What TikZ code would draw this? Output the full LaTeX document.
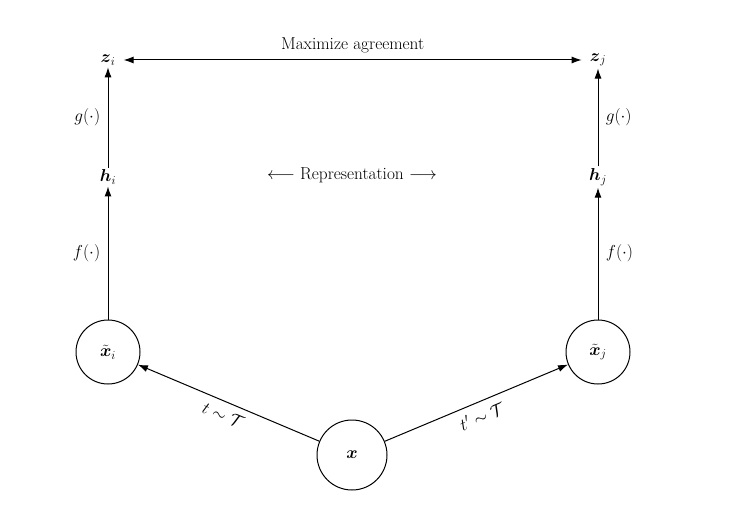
\documentclass[tikz,border=0pt]{standalone}
\usepackage{amsmath,amssymb}
\usetikzlibrary{arrows.meta}
\begin{document}
\begin{tikzpicture}[x=1pt,y=-1pt,
  every node/.style={font=\LARGE},
  circ/.style={circle,draw,line width=1pt,minimum size=64pt,inner sep=0pt},
  lab/.style={inner sep=2pt},
  arr/.style={line width=1pt,-{Latex[length=10pt,width=7pt]}},
  darr/.style={line width=1pt,{Latex[length=10pt,width=7pt]}-{Latex[length=10pt,width=7pt]}}]
\useasboundingbox (0,0) rectangle (738,508);
\node[circ,minimum size=70pt] (x) at (352,455) {$\boldsymbol{x}$};
\node[circ] (xi) at (108,352) {$\tilde{\boldsymbol{x}}_i$};
\node[circ] (xj) at (598,352) {$\tilde{\boldsymbol{x}}_j$};
\node[lab] (hi) at (108,177) {$\boldsymbol{h}_i$};
\node[lab] (hj) at (598,177) {$\boldsymbol{h}_j$};
\node[lab] (zi) at (108,60) {$\boldsymbol{z}_i$};
\node[lab] (zj) at (598,60) {$\boldsymbol{z}_j$};
\draw[arr] (xi) -- node[left=4pt] {$f(\cdot)$} (hi);
\draw[arr] (xj) -- node[right=4pt] {$f(\cdot)$} (hj);
\draw[arr] (hi) -- node[left=4pt] {$g(\cdot)$} (zi);
\draw[arr] (hj) -- node[right=4pt] {$g(\cdot)$} (zj);
\draw[darr,shorten <=6pt,shorten >=6pt] (zi) -- node[above=3pt] {Maximize agreement} (zj);
\node (rep) at (352,175) {$\longleftarrow$ Representation $\longrightarrow$};
\draw[arr] (x) -- node[sloped,below=4pt] {$t\sim\mathcal{T}$} (xi);
\draw[arr] (x) -- node[sloped,below=4pt] {$t'\sim\mathcal{T}$} (xj);
\end{tikzpicture}
\end{document}
